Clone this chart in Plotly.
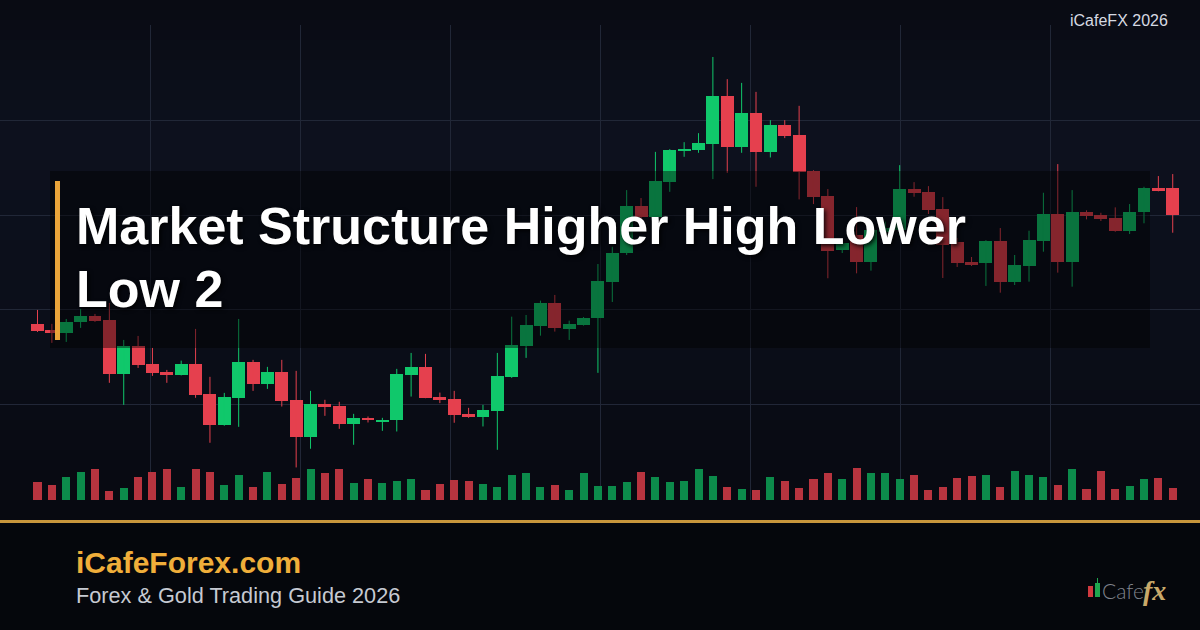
import plotly.graph_objects as go

# ---------------- data ----------------
idx = list(range(80))
open_ = [
    118.53, 117.89, 117.61, 118.74, 119.37, 118.95, 113.26, 116.21, 114.32, 113.51,
    113.19, 114.32, 111.16, 107.89, 110.77, 114.53, 112.21, 113.47, 110.53, 106.66,
    110.11, 109.89, 108.00, 108.63, 108.14, 108.35, 113.19, 114.03, 110.87, 110.63,
    109.05, 108.77, 109.37, 112.98, 116.24, 118.32, 120.74, 118.03, 118.42, 119.16,
    122.98, 126.00, 130.95, 129.82, 133.51, 136.71, 136.84, 137.47, 142.53, 137.19,
    140.77, 136.66, 139.47, 138.42, 134.63, 132.00, 126.32, 127.89, 125.08, 128.20,
    128.42, 132.74, 132.45, 130.63, 127.16, 125.08, 124.98, 127.29, 122.98, 124.63,
    127.29, 130.11, 125.08, 130.28, 129.97, 129.65, 128.35, 130.28, 132.81, 132.81,
]
close = [
    117.79, 117.61, 118.74, 119.37, 118.87, 113.26, 116.21, 114.21, 113.40, 113.19,
    114.32, 111.05, 107.89, 110.84, 114.53, 112.21, 113.47, 110.45, 106.66, 110.11,
    109.82, 108.00, 108.63, 108.35, 108.42, 113.26, 114.00, 110.77, 110.53, 108.95,
    108.77, 109.47, 113.05, 116.32, 118.42, 120.74, 118.11, 118.53, 119.16, 123.05,
    126.00, 130.95, 129.79, 133.58, 136.84, 136.98, 137.58, 142.53, 137.19, 140.77,
    136.66, 139.47, 138.32, 134.56, 131.93, 126.24, 127.05, 125.08, 128.42, 128.60,
    132.74, 132.35, 130.53, 126.84, 124.95, 124.74, 127.29, 122.98, 124.74, 127.37,
    130.11, 125.08, 130.28, 129.93, 129.58, 128.35, 130.28, 132.81, 132.56, 130.00,
]
high = [
    120.00, 118.53, 119.05, 120.11, 119.58, 120.74, 116.84, 117.26, 116.00, 113.68,
    114.66, 118.00, 112.95, 111.26, 119.05, 114.74, 114.00, 114.74, 113.58, 111.47,
    110.53, 110.32, 109.05, 108.77, 108.63, 113.79, 115.47, 115.37, 111.29, 111.47,
    109.68, 110.00, 115.47, 119.29, 119.47, 120.98, 121.58, 118.87, 119.25, 124.84,
    126.66, 132.63, 131.79, 136.66, 136.95, 137.68, 138.63, 146.66, 144.32, 143.93,
    142.98, 140.00, 140.00, 141.51, 134.70, 132.74, 127.37, 130.84, 128.95, 129.30,
    135.26, 133.47, 133.05, 131.89, 127.58, 125.58, 127.35, 128.63, 125.79, 128.35,
    132.35, 135.37, 132.63, 130.50, 130.24, 130.81, 131.16, 132.98, 134.11, 134.32,
]
low = [
    117.68, 116.53, 116.63, 118.11, 118.74, 112.32, 110.00, 113.89, 113.05, 112.32,
    113.10, 110.74, 106.00, 107.80, 107.68, 111.47, 111.68, 109.82, 103.40, 105.37,
    108.84, 107.47, 105.79, 108.14, 107.26, 107.19, 110.87, 110.70, 110.18, 108.11,
    108.63, 107.72, 105.26, 112.84, 114.95, 117.29, 117.72, 116.84, 118.35, 113.37,
    120.84, 125.79, 129.26, 129.47, 132.45, 136.14, 136.56, 133.79, 134.45, 136.56,
    132.98, 136.07, 138.11, 131.65, 131.16, 123.34, 126.00, 123.86, 124.14, 127.50,
    127.89, 131.93, 130.11, 123.37, 124.53, 124.63, 122.53, 121.82, 122.63, 122.98,
    126.14, 123.93, 122.45, 129.55, 129.37, 128.24, 128.00, 129.13, 132.50, 128.14,
]
volume = [
    55, 46, 70, 85, 94, 28, 37, 70, 85, 94,
    40, 94, 85, 46, 76, 40, 85, 49, 67, 94,
    82, 94, 52, 64, 52, 58, 64, 31, 49, 61,
    58, 49, 40, 76, 82, 40, 46, 31, 82, 43,
    43, 55, 85, 70, 55, 58, 94, 73, 40, 34,
    31, 70, 58, 37, 64, 82, 64, 97, 82, 82,
    64, 76, 31, 40, 67, 73, 76, 40, 88, 76,
    70, 46, 94, 34, 88, 34, 43, 64, 67, 37,
]

title_line1 = "Market Structure Higher High Lower"
title_line2 = "Low 2"
brand = "iCafeForex.com"
subtitle = "Forex & Gold Trading Guide 2026"
corner = "iCafeFX 2026"

# ---------------- styles ----------------
W, H = 1200, 630
UP, DOWN = "#10c86b", "#e5404e"
VUP, VDOWN = "#0c8b4b", "#b8343f"
GRID = "#212737"
GOLD = "#f0ae3a"

def px_x(p):
    return p / W

def px_y(p):
    return 1 - p / H

is_up = [c >= o for o, c in zip(open_, close)]
body_base = [min(o, c) for o, c in zip(open_, close)]
body_h = [max(abs(c - o), 0.25) for o, c in zip(open_, close)]
body_col = [UP if u else DOWN for u in is_up]
vol_col = [VUP if u else VDOWN for u in is_up]

fig = go.Figure()

# wicks
for flag, col in ((True, UP), (False, DOWN)):
    xs, ys = [], []
    for i, u in enumerate(is_up):
        if u == flag:
            xs += [idx[i], idx[i], None]
            ys += [low[i], high[i], None]
    fig.add_trace(go.Scatter(x=xs, y=ys, mode="lines", line=dict(color=col, width=1),
                             hoverinfo="skip", showlegend=False))

# bodies
fig.add_trace(go.Bar(x=idx, y=body_h, base=body_base, width=0.9,
                     marker=dict(color=body_col, line=dict(width=0)), showlegend=False))
# volume
fig.add_trace(go.Bar(x=idx, y=volume, width=0.56, yaxis="y2",
                     marker=dict(color=vol_col, line=dict(width=0)), showlegend=False))

# background gradient bands (chart region 0..520 px)
def lerp(a, b, t):
    return tuple(round(a[k] + (b[k] - a[k]) * t) for k in range(3))

stops = [(0, (9, 11, 19)), (140, (13, 17, 30)), (330, (11, 14, 25)), (520, (7, 9, 16))]
shapes = []
step = 10
for y0 in range(0, 520, step):
    ym = y0 + step / 2
    for (a, ca), (b, cb) in zip(stops[:-1], stops[1:]):
        if a <= ym <= b:
            c = lerp(ca, cb, (ym - a) / (b - a))
            break
    shapes.append(dict(type="rect", xref="paper", yref="paper", x0=0, x1=1,
                       y0=px_y(y0 + step), y1=px_y(y0), fillcolor="rgb(%d,%d,%d)" % c,
                       line=dict(width=0), layer="below"))
# footer
shapes.append(dict(type="rect", xref="paper", yref="paper", x0=0, x1=1, y0=0, y1=px_y(520),
                   fillcolor="#05070c", line=dict(width=0), layer="below"))
# overlay box for title
shapes.append(dict(type="rect", xref="paper", yref="paper", x0=px_x(50), x1=px_x(1150),
                   y0=px_y(348), y1=px_y(171), fillcolor="rgba(0,0,0,0.42)",
                   line=dict(width=0), layer="above"))
# orange accent bar
shapes.append(dict(type="rect", xref="paper", yref="paper", x0=px_x(55), x1=px_x(60),
                   y0=px_y(340), y1=px_y(181), fillcolor="#e9a43a",
                   line=dict(width=0), layer="above"))
# gold separator
shapes.append(dict(type="rect", xref="paper", yref="paper", x0=0, x1=1,
                   y0=px_y(523), y1=px_y(520), fillcolor="#c8963c",
                   line=dict(width=0), layer="above"))
# logo candles
shapes.append(dict(type="rect", xref="paper", yref="paper", x0=px_x(1088), x1=px_x(1093),
                   y0=px_y(597), y1=px_y(586), fillcolor="#d0393f", line=dict(width=0), layer="above"))
shapes.append(dict(type="line", xref="paper", yref="paper", x0=px_x(1097.5), x1=px_x(1097.5),
                   y0=px_y(597), y1=px_y(578), line=dict(color="#1fa64f", width=1), layer="above"))
shapes.append(dict(type="rect", xref="paper", yref="paper", x0=px_x(1095), x1=px_x(1100),
                   y0=px_y(597), y1=px_y(583), fillcolor="#1fa64f", line=dict(width=0), layer="above"))

SHADOW = "2px 2px 4px rgba(0,0,0,0.85)"
annotations = [
    dict(text=title_line1, x=px_x(74), y=px_y(226), xanchor="left", yanchor="middle",
         font=dict(family="Liberation Sans, Arial, sans-serif", size=52, color="#ffffff",
                   weight="bold", shadow=SHADOW)),
    dict(text=title_line2, x=px_x(74), y=px_y(289), xanchor="left", yanchor="middle",
         font=dict(family="Liberation Sans, Arial, sans-serif", size=52, color="#ffffff",
                   weight="bold", shadow=SHADOW)),
    dict(text=corner, x=px_x(1170), y=px_y(21), xanchor="right", yanchor="middle",
         font=dict(family="Liberation Sans, Arial, sans-serif", size=16, color="#d6dae2")),
    dict(text=brand, x=px_x(74), y=px_y(562), xanchor="left", yanchor="middle",
         font=dict(family="Liberation Sans, Arial, sans-serif", size=30, color=GOLD, weight="bold")),
    dict(text=subtitle, x=px_x(74), y=px_y(595), xanchor="left", yanchor="middle",
         font=dict(family="Liberation Sans, Arial, sans-serif", size=21.7, color="#c6cad2")),
    dict(text="Cafe", x=px_x(1100), y=px_y(590), xanchor="left", yanchor="middle",
         font=dict(family="Lato, Liberation Sans, sans-serif", size=21, color="#80848d", weight=300)),
    dict(text="<i><b>fx</b></i>", x=px_x(1141), y=px_y(590), xanchor="left", yanchor="middle",
         font=dict(family="Liberation Serif, DejaVu Serif, serif", size=28, color="#c9a96a")),
]
for a in annotations:
    a.update(xref="paper", yref="paper", showarrow=False)

pitch = 14.37     # px per candle
first = 37.5      # px of first candle centre
xr = [-first / pitch, (W - first) / pitch]
xgrid = [(150 * k - first) / pitch for k in range(1, 8)]

fig.update_layout(
    width=W, height=H,
    margin=dict(l=0, r=0, t=0, b=0),
    paper_bgcolor="#05070c",
    plot_bgcolor="rgba(0,0,0,0)",
    barmode="overlay",
    bargap=0,
    showlegend=False,
    shapes=shapes,
    annotations=annotations,
    xaxis=dict(range=xr, domain=[0, 1], tickmode="array", tickvals=xgrid,
               showticklabels=False, ticks="", showgrid=True, gridcolor=GRID, gridwidth=1,
               zeroline=False, showline=False, fixedrange=True),
    yaxis=dict(range=[99.97, 150.03], domain=[130 / H, 605 / H], tick0=100, dtick=10,
               showticklabels=False, ticks="", showgrid=True, gridcolor=GRID, gridwidth=1,
               zeroline=False, showline=False, fixedrange=True),
    yaxis2=dict(range=[0, 1425], overlaying="y", visible=False, showgrid=False,
                zeroline=False, fixedrange=True),
)

fig.write_html("out.html")
